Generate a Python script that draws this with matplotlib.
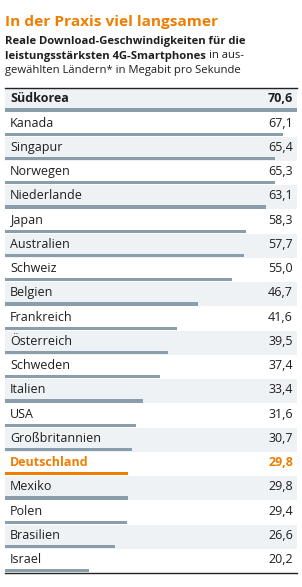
import matplotlib.pyplot as plt

countries = ["Südkorea", "Kanada", "Singapur", "Norwegen", "Niederlande", "Japan",
             "Australien", "Schweiz", "Belgien", "Frankreich", "Österreich", "Schweden",
             "Italien", "USA", "Großbritannien", "Deutschland", "Mexiko", "Polen",
             "Brasilien", "Israel"]
speeds = [70.6, 67.1, 65.4, 65.3, 63.1, 58.3, 57.7, 55.0, 46.7, 41.6, 39.5, 37.4,
          33.4, 31.6, 30.7, 29.8, 29.8, 29.4, 26.6, 20.2]
highlight = "Deutschland"

W, H = 302, 587
ORANGE = "#ef7d00"
BAR = "#8a9dab"
BAND = "#eef2f5"
TXT = "#1e1e1e"
FONT = "Open Sans"

plt.rcParams['font.family'] = [FONT, 'DejaVu Sans']
fig = plt.figure(figsize=(W / 100, H / 100), dpi=100)

# table axes, in pixel placement
x0, x1 = 5, 297
y_top, y_bot = 88, 573
ax = fig.add_axes([x0 / W, 1 - y_bot / H, (x1 - x0) / W, (y_bot - y_top) / H])
n = len(countries)
xmax = max(speeds)
ax.set_xlim(0, xmax)
ax.set_ylim(n, 0)
ax.axis("off")

for i, (c, v) in enumerate(zip(countries, speeds)):
    if i % 2 == 0:
        ax.barh(i + 0.5, xmax, height=1, left=0, color=BAND, zorder=0)
    col = ORANGE if c == highlight else BAR
    ax.barh(i + 0.91, v, height=0.13, left=0, color=col, zorder=2)
    tcol = ORANGE if c == highlight else TXT
    weight = "bold" if (i == 0 or c == highlight) else "normal"
    ax.text(0.017, i + 0.45, c, transform=ax.get_yaxis_transform(), ha="left",
            va="center", fontsize=9, color=tcol, fontweight=weight, zorder=3)
    val = f"{v:.1f}".replace(".", ",")
    ax.text(0.986, i + 0.45, val, transform=ax.get_yaxis_transform(), ha="right",
            va="center", fontsize=9, color=tcol, fontweight=weight, zorder=3)

ax.plot([0, xmax], [0, 0], color="#222222", lw=1.0, clip_on=False, zorder=4)
ax.plot([0, xmax], [n, n], color="#222222", lw=1.0, clip_on=False, zorder=4)

# header
def px(x, y):
    return x / W, 1 - y / H

fig.text(*px(5, 26), "In der Praxis viel langsamer", color=ORANGE, fontsize=11.1,
         fontweight="bold", va="baseline", ha="left")
fig.text(*px(5, 44), "Reale Download-Geschwindigkeiten für die", color=TXT,
         fontsize=8.1, fontweight="bold", va="baseline", ha="left")
t = fig.text(*px(5, 58.5), "leistungsstärksten 4G-Smartphones", color=TXT,
             fontsize=8.1, fontweight="bold", va="baseline", ha="left")
fig.canvas.draw()
bb = t.get_window_extent()
fig.text(bb.x1 / W + 3 / W, 1 - 58.5 / H, "in aus-", color=TXT, fontsize=8.1,
         va="baseline", ha="left")
fig.text(*px(5, 72.5), "gewählten Ländern* in Megabit pro Sekunde", color=TXT,
         fontsize=8.1, va="baseline", ha="left")

fig.savefig("out.png", dpi=100)
